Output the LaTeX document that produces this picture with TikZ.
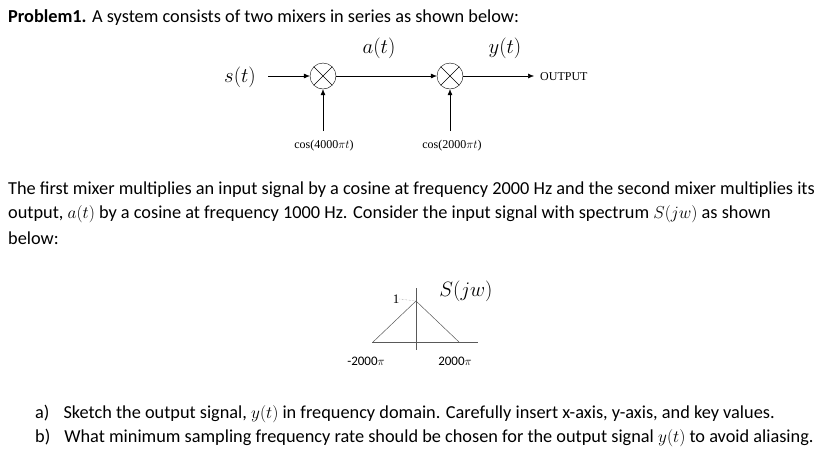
\documentclass[tikz,border=0pt]{standalone}
\usepackage{fontspec}
\setmainfont{Carlito}
\newfontfamily\serifx{Liberation Serif}
\usetikzlibrary{arrows.meta}
\begin{document}
\begin{tikzpicture}[x=1pt,y=-1pt,
  mix/.style={draw,circle,minimum size=26pt,inner sep=0pt,path picture={\draw (path picture bounding box.north west)--(path picture bounding box.south east) (path picture bounding box.north east)--(path picture bounding box.south west);}},
  sig/.style={-{Latex[length=6pt,width=5pt]},line width=0.5pt},
  txt/.style={anchor=west,inner sep=0pt,font=\fontsize{18.3}{21}\selectfont},
  lbl/.style={inner sep=0pt,font=\serifx\fontsize{12}{14}\selectfont},
  m/.style={inner sep=0pt,font=\fontsize{21}{24}\selectfont}]
\useasboundingbox (0,0) rectangle (836,467);
\node[txt] (t0) at (8,18) {\textbf{Problem1.} A system consists of two mixers in series as shown below:};
\node[m] (s) at (240,77) {$s(t)$};
\node[mix] (m1) at (323,76) {};
\node[mix] (m2) at (450,76) {};
\coordinate (sin) at (268,76);
\coordinate (out) at (534,76);
\node[lbl,anchor=west] (o) at (540,77) {OUTPUT};
\node[m] (a) at (379,48) {$a(t)$};
\node[m] (y) at (505,48) {$y(t)$};
\draw[sig] (sin) -- (m1);
\draw[sig] (m1) -- (m2);
\draw[sig] (m2) -- (out);
\node[lbl] (c1) at (324,146) {cos(4000$\pi t$)};
\node[lbl] (c2) at (452,146) {cos(2000$\pi t$)};
\coordinate (c1t) at (323,131);
\coordinate (c2t) at (450,131);
\draw[sig] (c1t) -- (m1);
\draw[sig] (c2t) -- (m2);
\node[txt] (p1) at (8,190) {The first mixer multiplies an input signal by a cosine at frequency 2000 Hz and the second mixer multiplies its};
\node[txt] (p2) at (8,214) {output, $a(t)$ by a cosine at frequency 1000 Hz. Consider the input signal with spectrum $S(jw)$ as shown};
\node[txt] (p3) at (8,238) {below:};
% spectrum
\coordinate (xl) at (372,342); \coordinate (xr) at (478,342);
\coordinate (yt) at (416,288); \coordinate (yb) at (416,350);
\coordinate (tl) at (373,342); \coordinate (tp) at (416,301); \coordinate (tr) at (459,342);
\draw[line width=0.5pt,gray!70!black] (xl)--(xr) (yt)--(yb);
\draw[line width=0.5pt,gray!70!black] (tl)--(tp)--(tr);
\node[lbl,font=\serifx\fontsize{13}{14}\selectfont] (one) at (396,299) {1};
\draw[densely dotted,gray] (one.east)--(tp);
\node[m] (S) at (466,291) {$S(jw)$};
\node[inner sep=0pt,font=\fontsize{13}{15}\selectfont] (n1) at (366,361) {-2000$\pi$};
\node[inner sep=0pt,font=\fontsize{13}{15}\selectfont] (n2) at (455,361) {2000$\pi$};
\node[txt] (qa) at (35,414) {a)\hspace{14pt}Sketch the output signal, $y(t)$ in frequency domain. Carefully insert x-axis, y-axis, and key values.};
\node[txt] (qb) at (35,438) {b)\hspace{14pt}What minimum sampling frequency rate should be chosen for the output signal $y(t)$ to avoid aliasing.};
\end{tikzpicture}
\end{document}
